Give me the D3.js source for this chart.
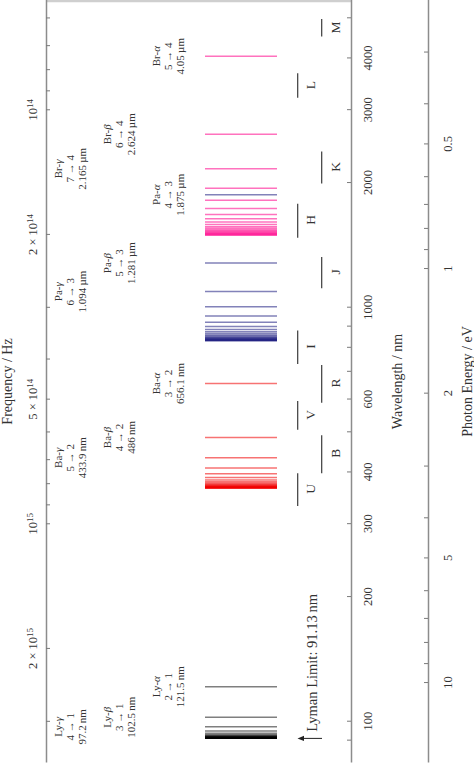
<!DOCTYPE html>
<html lang="en">
<head>
<meta charset="UTF-8">
<title>Hydrogen spectral series</title>
<script src="https://cdn.jsdelivr.net/npm/d3@7"></script>
<style>
  html, body { margin: 0; padding: 0; background: #fff; }
  svg { display: block; font-family: "Liberation Serif", "DejaVu Serif", serif; }
  .axis text { fill: #333; font-size: 12.5px; }
  .title { fill: #333; font-size: 14px; }
  .lbl { fill: #333; font-size: 11px; }
  .band { fill: #333; font-size: 13.5px; }
</style>
</head>
<body>
<svg id="chart"></svg>
<script>
// Data: wavelengths in nm (upper level n = first+1 ... 25)
const lymanLines = [121.50, 102.52, 97.20, 94.92, 93.73, 93.03, 92.57, 92.27, 92.05, 91.89,
    91.76, 91.67, 91.59, 91.53, 91.48, 91.44, 91.41, 91.38, 91.36, 91.33, 91.32, 91.30, 91.29, 91.27];
const balmerLines = [656.11, 486.01, 433.94, 410.07, 396.91, 388.81, 383.44, 379.70, 376.97, 374.92,
    373.34, 372.10, 371.10, 370.29, 369.62, 369.06, 368.59, 368.19, 367.84, 367.54, 367.28, 367.06, 366.86];
const paschenLines = [1874.61, 1281.47, 1093.52, 1004.67, 954.35, 922.66, 901.25, 886.05, 874.82, 866.27,
    859.61, 854.31, 850.02, 846.50, 843.57, 841.11, 839.02, 837.23, 835.68, 834.34, 833.16, 832.12];
const brackettLines = [4050.08, 2624.45, 2164.95, 1944.04, 1816.92, 1735.75, 1680.21, 1640.28, 1610.50, 1587.63,
    1569.65, 1555.23, 1543.48, 1533.77, 1525.65, 1518.78, 1512.92, 1507.88, 1503.50, 1499.69, 1496.33];

const labelPrefix = ["Ly-", "Ly-", "Ly-", "Ba-", "Ba-", "Ba-", "Pa-", "Pa-", "Pa-", "Br-", "Br-", "Br-"];
const labelGreek = ["γ", "β", "α", "γ", "β", "α", "γ", "β", "α", "γ", "β", "α"];
const labelTransitions = ["4 → 1", "3 → 1", "2 → 1", "5 → 2", "4 → 2", "3 → 2",
    "6 → 3", "5 → 3", "4 → 3", "7 → 4", "6 → 4", "5 → 4"];
const labelWavelengthText = ["97.2\u2009nm", "102.5\u2009nm", "121.5\u2009nm", "433.9\u2009nm", "486\u2009nm", "656.1\u2009nm",
    "1.094\u2009µm", "1.281\u2009µm", "1.875\u2009µm", "2.165\u2009µm", "2.624\u2009µm", "4.05\u2009µm"];
const labelWavelengths = [97.20, 102.52, 121.50, 433.94, 486.01, 656.11, 1093.52, 1281.47, 1874.61, 2164.95, 2624.45, 4050.08];

const bandNames = ["U", "B", "V", "R", "I", "J", "H", "K", "L", "M"];
const bandCenters = [365, 445, 551, 658, 806, 1220, 1630, 2190, 3450, 4750];
const bandWidths = [66, 94, 88, 138, 149, 213, 307, 390, 472, 460];

const lymanLimit = 91.13;

const waveMajor = [100, 200, 300, 400, 600, 1000, 2000, 3000, 4000];
const waveMinor = [90, 500, 700, 800, 900, 5000];
const freqMajor = [1e14, 2e14, 5e14, 1e15, 2e15];
const freqMajorMant = ["", "2 × ", "5 × ", "", "2 × "];
const freqMajorExp = ["14", "14", "14", "15", "15"];
const freqMinor = [6e13, 7e13, 8e13, 9e13, 3e14, 4e14, 6e14, 7e14, 8e14, 9e14, 3e15];
const energyMajor = [0.5, 1, 2, 5, 10];
const energyMinor = [0.3, 0.4, 0.6, 0.7, 0.8, 0.9, 3, 4, 6, 7, 8, 9];

// Layout
const W = 474, H = 763;
const C = 2.99792458e17;   // nm/s
const HC = 1239.84198;     // eV nm
const lamLo = 79.48, lamHi = 5536;
const freqY = 46, waveY = 351, energyY = 428;
const lineTop = 205, lineBottom = 277;

const series = [
    { lines: lymanLines, color: "#000000", opacity: 0.5 },
    { lines: balmerLines, color: "#f00000", opacity: 0.55 },
    { lines: paschenLines, color: "#1c1c80", opacity: 0.55 },
    { lines: brackettLines, color: "#ff1493", opacity: 0.6 }
];

const svg = d3.select("#chart").attr("width", W).attr("height", H);

// the chart is drawn landscape and turned a quarter to the left
const plot = svg.append("g").attr("transform", "translate(0," + H + ") rotate(-90)");

const x = d3.scaleLog().domain([lamLo, lamHi]).range([0, H]);
const fx = d3.scaleLog().domain([C / lamLo, C / lamHi]).range([0, H]);
const ex = d3.scaleLog().domain([HC / lamLo, HC / lamHi]).range([0, H]);

const styleAxis = g => {
    g.attr("font-family", null).attr("font-size", null);
    g.select(".domain").attr("stroke", "#8c8c8c").attr("stroke-width", 1.5);
    g.selectAll(".tick line").attr("stroke", "#7a7a7a");
};

// light frame edge at the long-wavelength end
plot.append("line")
    .attr("x1", H - 1).attr("x2", H - 1)
    .attr("y1", freqY).attr("y2", waveY)
    .attr("stroke", "#cfcfcf").attr("stroke-width", 2.5);

// Wavelength axis
plot.append("g")
    .attr("class", "axis")
    .attr("transform", "translate(0," + waveY + ")")
    .call(d3.axisBottom(x)
        .tickValues(waveMajor.concat(waveMinor))
        .tickFormat(d => waveMajor.includes(d) ? d : "")
        .tickSizeInner(-4).tickSizeOuter(0).tickPadding(12))
    .call(styleAxis);

// Energy axis
plot.append("g")
    .attr("class", "axis")
    .attr("transform", "translate(0," + energyY + ")")
    .call(d3.axisBottom(ex)
        .tickValues(energyMajor.concat(energyMinor))
        .tickFormat(d => energyMajor.includes(d) ? d : "")
        .tickSizeInner(-4).tickSizeOuter(0).tickPadding(15))
    .call(styleAxis);

// Frequency axis
const fAxis = plot.append("g")
    .attr("class", "axis")
    .attr("transform", "translate(0," + freqY + ")")
    .call(d3.axisTop(fx)
        .tickValues(freqMajor.concat(freqMinor))
        .tickFormat("")
        .tickSizeInner(-4).tickSizeOuter(0).tickPadding(9))
    .call(styleAxis);

fAxis.selectAll(".tick").each(function (d) {
    const i = freqMajor.indexOf(d);
    if (i < 0) return;
    const t = d3.select(this).select("text");
    t.text(freqMajorMant[i] + "10");
    t.append("tspan")
        .attr("dy", "-0.45em")
        .style("font-size", "0.72em")
        .text(freqMajorExp[i]);
});

// Axis titles
const mid = H / 2;
plot.append("text").attr("class", "title").attr("text-anchor", "middle")
    .attr("x", mid).attr("y", 11.5).text("Frequency / Hz");
plot.append("text").attr("class", "title").attr("text-anchor", "middle")
    .attr("x", mid).attr("y", 402).text("Wavelength / nm");
plot.append("text").attr("class", "title").attr("text-anchor", "middle")
    .attr("x", mid).attr("y", 472).text("Photon Energy / eV");

// Spectral lines
series.forEach(s => {
    plot.append("g")
        .selectAll("line")
        .data(s.lines)
        .join("line")
        .attr("x1", d => x(d)).attr("x2", d => x(d))
        .attr("y1", lineTop).attr("y2", lineBottom)
        .attr("stroke", s.color)
        .attr("stroke-opacity", s.opacity)
        .attr("stroke-width", 1.5);
});

// Line labels (γ, β, α in three rows)
const labels = plot.append("g")
    .selectAll("text")
    .data(labelWavelengths)
    .join("text")
    .attr("class", "lbl")
    .attr("text-anchor", "middle");

labels.each(function (d, i) {
    const col = i % 3;
    const base = 61.5 + col * 49;
    const t = d3.select(this);
    const first = t.append("tspan").attr("x", x(d)).attr("y", base);
    first.append("tspan").text(labelPrefix[i]);
    first.append("tspan").style("font-style", "italic").text(labelGreek[i]);
    t.append("tspan").attr("x", x(d)).attr("y", base + 12.4).text(labelTransitions[i]);
    t.append("tspan").attr("x", x(d)).attr("y", base + 24.8).text(labelWavelengthText[i]);
});

// Photometric bands
const bands = plot.append("g")
    .selectAll("g")
    .data(bandNames)
    .join("g");

bands.append("line")
    .attr("x1", (d, i) => x(bandCenters[i] - bandWidths[i] / 2))
    .attr("x2", (d, i) => x(bandCenters[i] + bandWidths[i] / 2))
    .attr("y1", (d, i) => i % 2 ? 321.7 : 297.7)
    .attr("y2", (d, i) => i % 2 ? 321.7 : 297.7)
    .attr("stroke", "#3a3a3a").attr("stroke-width", 1.2);

bands.append("text")
    .attr("class", "band")
    .attr("text-anchor", "middle")
    .attr("x", (d, i) => x(bandCenters[i]))
    .attr("y", (d, i) => i % 2 ? 339.5 : 315)
    .text(d => d);

// Lyman limit arrow
const lx = x(lymanLimit);
plot.append("line")
    .attr("x1", lx).attr("x2", lx)
    .attr("y1", 322).attr("y2", 303)
    .attr("stroke", "#222").attr("stroke-width", 1);
plot.append("path")
    .attr("d", d3.line()([[lx, 297.5], [lx - 2.6, 304], [lx + 2.6, 304]]) + "Z")
    .attr("fill", "#222");
plot.append("text").attr("class", "title")
    .attr("x", lx + 6.7).attr("y", 316.5)
    .style("font-size", "14.5px")
    .text("Lyman Limit: " + lymanLimit + "\u2009nm");
</script>
</body>
</html>
